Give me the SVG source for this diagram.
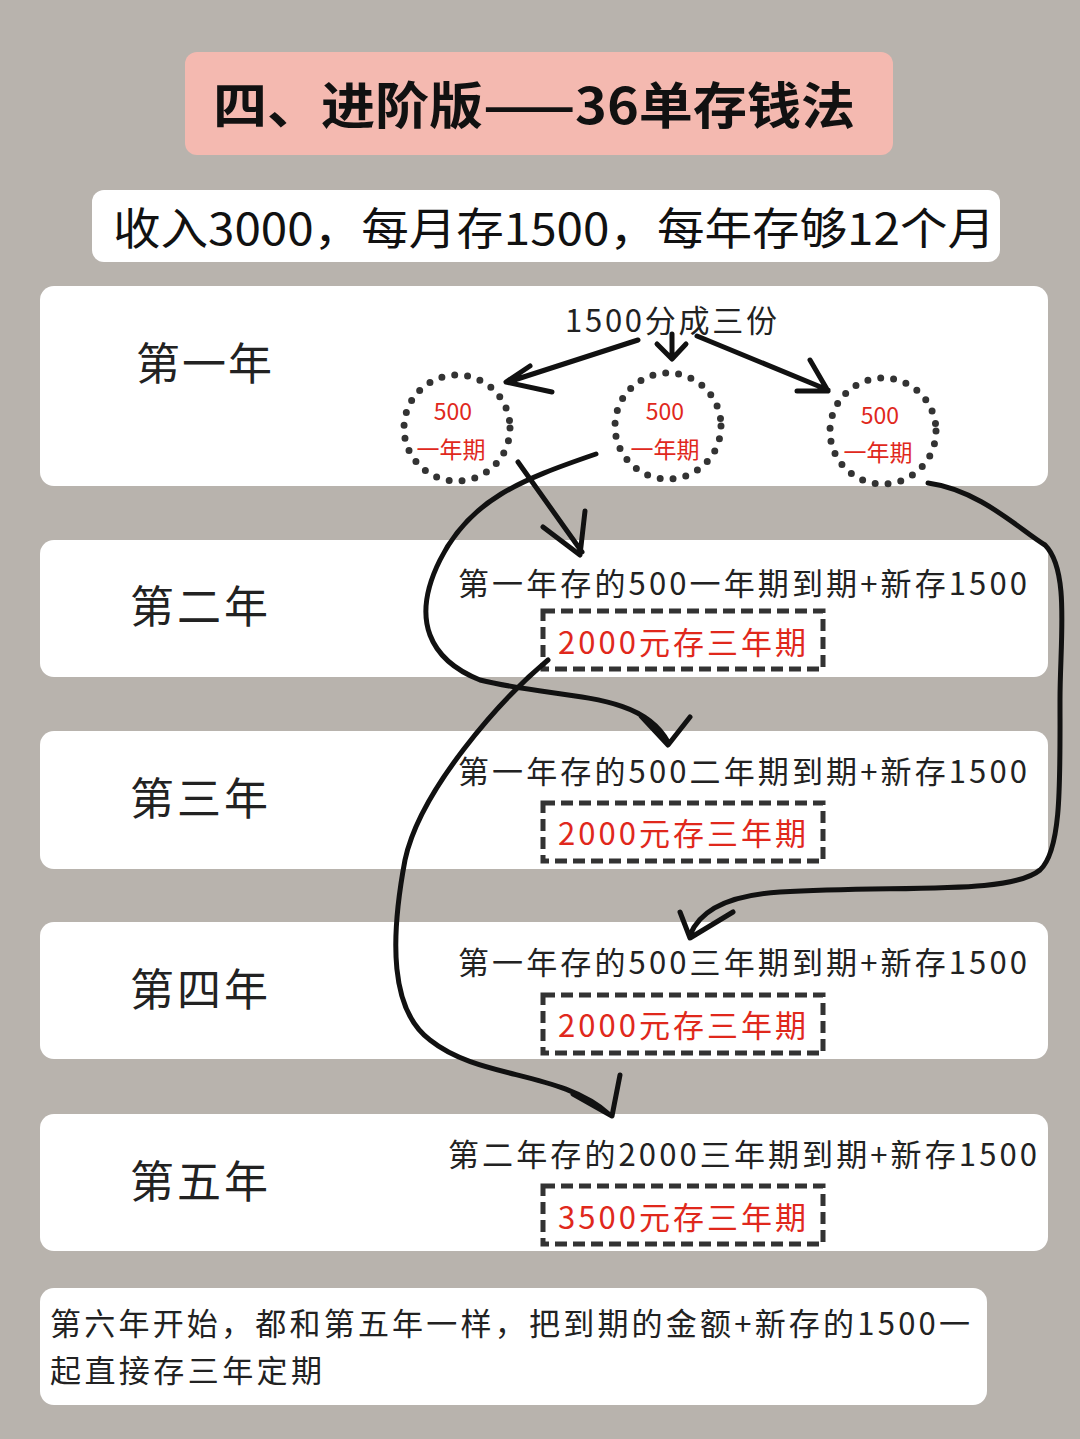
<svg xmlns="http://www.w3.org/2000/svg" width="1080" height="1439" viewBox="0 0 1080 1439">
<style>
.card{fill:#fff}
.yr{font-family:"Noto Sans CJK SC","Noto Sans",sans-serif;font-size:44px;fill:#222}
.t{font-family:"Noto Sans CJK SC","Noto Sans",sans-serif;font-size:31px;fill:#222}
.r{font-family:"Noto Sans CJK SC","Noto Sans",sans-serif;font-size:31px;fill:#e0281c}
.cr{font-family:"Noto Sans CJK SC","Noto Sans",sans-serif;font-size:23px;fill:#e0281c;text-anchor:middle}
.box{fill:none;stroke:#333;stroke-width:5;stroke-dasharray:12 6}
.dot{fill:none;stroke:#333;stroke-width:7;stroke-linecap:round;stroke-dasharray:0 13}
.ln{fill:none;stroke:#111;stroke-width:5;stroke-linecap:round;stroke-linejoin:round}
</style>
<rect width="1080" height="1439" fill="#b8b3ad"/>
<g id="title"><rect x="185" y="52" width="708" height="103" rx="12" fill="#f4b9b0"/>
<text x="213" y="124" textLength="642" lengthAdjust="spacingAndGlyphs" font-family="Noto Sans CJK SC,sans-serif" font-size="50" font-weight="bold" fill="#111">四、进阶版——36单存钱法</text></g>
<g id="subtitle"><rect x="92" y="190" width="908" height="72" rx="12" class="card"/>
<text x="113" y="245" textLength="882" lengthAdjust="spacingAndGlyphs" font-family="Noto Sans CJK SC,sans-serif" font-size="44" fill="#111">收入3000，每月存1500，每年存够12个月</text></g>
<g id="year1"><rect x="40" y="286" width="1008" height="200" rx="14" class="card"/>
<text x="136" y="380" textLength="136" class="yr">第一年</text>
<text x="565" y="332" textLength="212" class="t">1500分成三份</text>
<circle cx="457" cy="428" r="53" class="dot"/><circle cx="668" cy="426" r="53" class="dot"/><circle cx="883" cy="431" r="53" class="dot"/>
<text x="453" y="420" class="cr">500</text><text x="451" y="458" class="cr">一年期</text>
<text x="665" y="420" class="cr">500</text><text x="665" y="458" class="cr">一年期</text>
<text x="880" y="424" class="cr">500</text><text x="878" y="461" class="cr">一年期</text></g>
<g id="year2"><rect x="40" y="540" width="1008" height="137" rx="14" class="card"/>
<text x="130" y="623" textLength="138" class="yr">第二年</text>
<text x="458" y="595" textLength="569" class="t">第一年存的500一年期到期+新存1500</text>
<rect x="543" y="611" width="280" height="58" class="box"/><text x="558" y="654" textLength="248" class="r">2000元存三年期</text></g>
<g id="year3"><rect x="40" y="731" width="1008" height="138" rx="14" class="card"/>
<text x="130" y="815" textLength="138" class="yr">第三年</text>
<text x="458" y="783" textLength="569" class="t">第一年存的500二年期到期+新存1500</text>
<rect x="543" y="803" width="280" height="58" class="box"/><text x="558" y="845" textLength="248" class="r">2000元存三年期</text></g>
<g id="year4"><rect x="40" y="922" width="1008" height="137" rx="14" class="card"/>
<text x="130" y="1006" textLength="138" class="yr">第四年</text>
<text x="458" y="974" textLength="569" class="t">第一年存的500三年期到期+新存1500</text>
<rect x="543" y="995" width="280" height="58" class="box"/><text x="558" y="1037" textLength="248" class="r">2000元存三年期</text></g>
<g id="year5"><rect x="40" y="1114" width="1008" height="137" rx="14" class="card"/>
<text x="130" y="1198" textLength="138" class="yr">第五年</text>
<text x="448" y="1166" textLength="589" class="t">第二年存的2000三年期到期+新存1500</text>
<rect x="543" y="1186" width="280" height="58" class="box"/><text x="558" y="1229" textLength="248" class="r">3500元存三年期</text></g>
<g id="note"><rect x="40" y="1288" width="947" height="117" rx="14" class="card"/>
<text x="50" y="1335" textLength="920" class="t">第六年开始，都和第五年一样，把到期的金额+新存的1500一</text>
<text x="50" y="1382" textLength="272" class="t">起直接存三年定期</text></g>
<g id="connectors">
<path class="ln" d="M638 340 L508 382 M530 366 L506 382 L552 392"/>
<path class="ln" d="M672 334 L672 358 M657 344 L672 359 L686 344"/>
<path class="ln" d="M697 336 L828 390 M810 360 L828 391 L797 391"/>
<path class="ln" d="M518 462 L582 552 M543 527 L580 555 L585 511"/>
<path class="ln" d="M596 454 C520 480 470 500 440 560 C410 620 430 660 480 680 C560 700 640 690 668 742 M641 716 L668 745 L690 717"/>
<path class="ln" d="M928 483 C980 490 1020 530 1045 545 C1070 570 1060 640 1060 700 C1060 780 1062 850 1040 870 C1010 895 900 885 780 892 C730 895 700 910 690 935 M680 912 L690 938 L733 912"/>
<path class="ln" d="M548 660 C500 700 420 790 405 860 C390 940 390 1010 430 1040 C480 1080 560 1070 610 1115 M573 1094 L612 1116 L620 1075"/>
</g>
</svg>
